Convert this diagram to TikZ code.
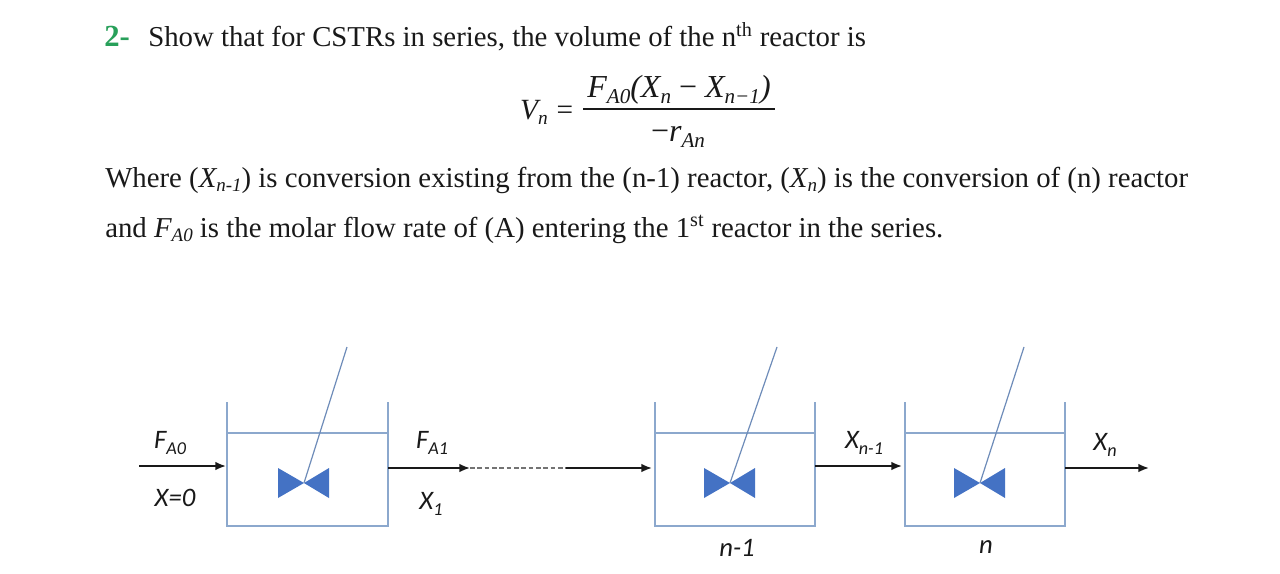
\documentclass[tikz,border=0pt]{standalone}
\usepackage{fontspec}
\setmainfont{Liberation Serif}
\newfontfamily\diagfont{Carlito}
\usetikzlibrary{arrows.meta}
\definecolor{vessel}{RGB}{140,168,205}
\definecolor{shaftc}{RGB}{110,140,185}
\definecolor{blade}{RGB}{68,114,196}
\definecolor{greentwo}{RGB}{40,160,90}
\definecolor{ink}{RGB}{25,25,25}
\newcommand{\subt}[1]{\raisebox{-0.16em}{\scalebox{0.66}{\itshape #1}}}
\newcommand{\dsub}[1]{\raisebox{-0.22em}{\scalebox{0.68}{\itshape #1}}}
\newcommand{\reactor}[5]{% name, left, right, shaft top x, bow-tie centre x
  \coordinate (#1-lt) at (#2,402);
  \coordinate (#1-rt) at (#3,402);
  \coordinate (#1-lb) at (#2,526);
  \coordinate (#1-rb) at (#3,526);
  \coordinate (#1-ll) at (#2,433);
  \coordinate (#1-lr) at (#3,433);
  \coordinate (#1-top) at (#4,347);
  \coordinate (#1-hub) at (#5,483);
  \draw[vesselline] (#1-lt) -- (#1-lb) -- (#1-rb) -- (#1-rt);
  \draw[vesselline] (#1-ll) -- (#1-lr);
  \fill[blade] (#1-hub) -- ++(-26,-15) -- ++(0,30) -- cycle;
  \fill[blade] (#1-hub) -- ++(25,-15) -- ++(0,30) -- cycle;
  \draw[shaftline] (#1-top) -- (#1-hub);
}
\tikzset{
  vesselline/.style={draw=vessel,line width=1pt},
  shaftline/.style={draw=shaftc,line width=0.9pt},
  flow/.style={draw=ink,line width=1.4pt,-{Latex[length=8pt,width=6.5pt]}},
  gap/.style={draw=black!55,line width=0.9pt,dash pattern=on 3.5pt off 2pt},
  body/.style={anchor=base west,inner sep=0pt,text=ink,font=\fontsize{21.6}{26}\selectfont},
  eq/.style={anchor=base,inner sep=0pt,text=ink,font=\fontsize{24}{28}\selectfont\itshape},
  lab/.style={anchor=center,inner sep=0pt,text=ink,font=\diagfont\itshape\fontsize{20}{24}\selectfont},
}
\begin{document}
\begin{tikzpicture}[x=0.75pt,y=-0.75pt]
\useasboundingbox[fill=white] (0,0) rectangle (1280,574);
\node[body,text=greentwo,font=\fontsize{23}{26}\selectfont\bfseries] (num) at (104,47) {2-};
\node[body] (l1) at (148,47) {Show that for CSTRs in series, the volume of the n\textsuperscript{th} reactor is};
\node[eq,font=\fontsize{22}{26}\selectfont\itshape] (vn) at (534,120) {V\subt{n}};
\node[eq,font=\fontsize{22}{26}\selectfont] (eqs) at (565,120) {=};
\node[eq] (numer) at (679,98) {F\subt{A0}(X\subt{n} \textup{−} X\subt{n−1})};
\node[eq] (denom) at (678,142) {\textup{−}r\subt{An}};
\coordinate (barl) at (583,109);
\coordinate (barr) at (775,109);
\draw[draw=ink,line width=1pt] (barl) -- (barr);
\node[body] (l2) at (105,187) {Where (\textit{X\subt{n-1}}) is conversion existing from the (n-1) reactor, (\textit{X\subt{n}}) is the conversion of (n) reactor};
\node[body] (l3) at (105,237) {and \textit{F\subt{A0}} is the molar flow rate of (A) entering the 1\textsuperscript{st} reactor in the series.};
\reactor{ra}{227}{388}{347}{304}
\reactor{rb}{655}{815}{777}{730}
\reactor{rc}{905}{1065}{1024}{980}
\coordinate (in) at (139,466);
\coordinate (ina) at (226,466);
\coordinate (outa) at (388,468);
\coordinate (dasha) at (470,468);
\coordinate (dashb) at (566,468);
\coordinate (inb) at (652,468);
\coordinate (outb) at (815,466);
\coordinate (inc) at (902,466);
\coordinate (outc) at (1065,468);
\coordinate (end) at (1149,468);
\draw[flow] (in) -- (ina);
\draw[flow] (outa) -- (dasha);
\draw[gap] (dasha) -- (dashb);
\draw[flow] (dashb) -- (inb);
\draw[flow] (outb) -- (inc);
\draw[flow] (outc) -- (end);
\node[lab] (fa0) at (170,443) {F\dsub{A0}};
\node[lab] (x0) at (175,498) {X=0};
\node[lab] (fa1) at (432,443) {F\dsub{A1}};
\node[lab] (x1) at (431,504) {X\dsub{1}};
\node[lab] (xn1) at (864,443) {X\dsub{n-1}};
\node[lab] (xn) at (1105,445) {X\dsub{n}};
\node[lab] (nm1) at (737,548) {n-1};
\node[lab] (nn) at (986,547) {n};
\end{tikzpicture}
\end{document}
